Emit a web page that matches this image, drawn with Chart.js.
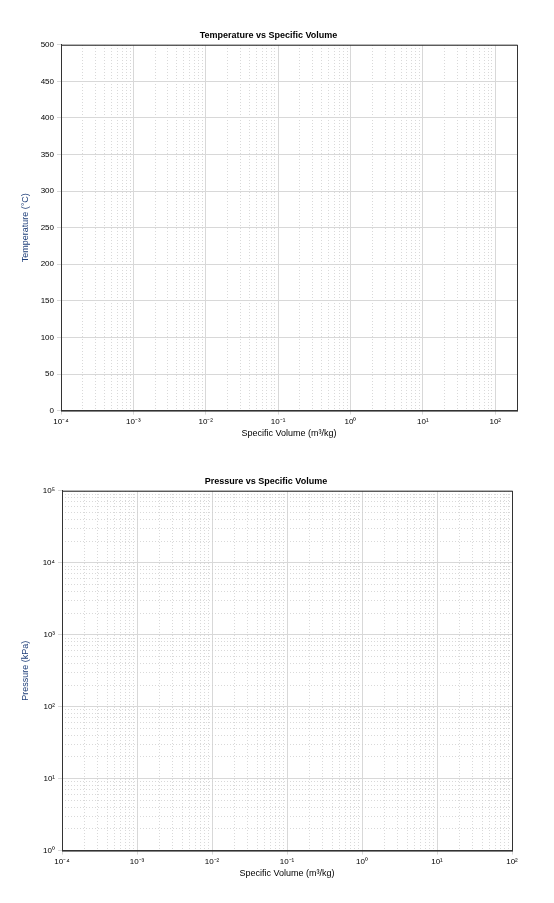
<!DOCTYPE html>
<html>
<head>
<meta charset="utf-8">
<script src="https://cdn.jsdelivr.net/npm/chart.js@4/dist/chart.umd.min.js"></script>
<style>
 body { margin:0; background:#fff; }
 .box { position:absolute; left:0; width:554px; }
</style>
</head>
<body>
<div class="box" style="top:0;height:450px"><canvas id="tempChart"></canvas></div>
<div class="box" style="top:450px;height:453px"><canvas id="presChart"></canvas></div>
<script>
// data (the reference plots are empty)
const volumes = [];
const temperatures = [];
const pressures = [];
const volDecades = [1e-4, 1e-3, 1e-2, 1e-1, 1, 10, 100];
const presDecades = [1, 10, 100, 1000, 10000, 100000];
const minorSteps = [2, 3, 4, 5, 6, 7, 8, 9];
const tempTicks = [0, 50, 100, 150, 200, 250, 300, 350, 400, 450, 500];
const supers = { '-': '⁻', '0': '⁰', '1': '¹', '2': '²', '3': '³', '4': '⁴', '5': '⁵' };

Chart.defaults.font.family = "'Liberation Sans', Arial, sans-serif";
Chart.defaults.color = '#000';
Chart.defaults.animation = false;

function powLabel(v) {
  const e = String(Math.round(Math.log10(v)));
  return '10' + e.split('').map(c => supers[c]).join('');
}
function minorList(decades, max) {
  const out = [];
  decades.forEach(d => minorSteps.forEach(m => { if (d * m <= max) out.push(d * m); }));
  return out;
}

const boxPlugin = {
  id: 'box',
  afterDraw(chart) {
    const a = chart.chartArea, c = chart.ctx;
    c.save();
    c.strokeStyle = '#333';
    c.lineWidth = 1;
    c.strokeRect(a.left + 0.5, a.top + 0.5, a.right - a.left, a.bottom - a.top);
    c.restore();
  }
};

function logX(min, max) {
  return {
    major: {
      type: 'logarithmic', position: 'bottom', min: min, max: max,
      afterBuildTicks: s => { s.ticks = volDecades.filter(v => v >= min && v <= max).map(v => ({ value: v })); },
      ticks: { callback: v => powLabel(v), font: { size: 8 }, maxRotation: 0, autoSkip: false, padding: 2 },
      grid: { color: '#d8d8d8', tickLength: 4 },
      border: { color: '#333' },
      title: { display: true, text: 'Specific Volume (m³/kg)', font: { size: 9 }, padding: { top: 0 } }
    },
    minor: {
      type: 'logarithmic', position: 'top', min: min, max: max,
      afterBuildTicks: s => { s.ticks = minorList(volDecades, max).filter(v => v >= min).map(v => ({ value: v })); },
      ticks: { display: false },
      grid: { color: '#cfcfcf', drawTicks: false, lineWidth: 0.8 },
      border: { display: false, dash: [1, 2] }
    }
  };
}

function initialize() {
  const tx = logX(1e-4, 200);
  new Chart(document.getElementById('tempChart'), {
    type: 'scatter',
    data: { datasets: [{ data: volumes.map((v, i) => ({ x: v, y: temperatures[i] })) }] },
    options: {
      responsive: true, maintainAspectRatio: false,
      layout: { padding: { left: 20, right: 37, top: 30, bottom: 7 } },
      plugins: {
        legend: { display: false },
        title: { display: true, text: 'Temperature vs Specific Volume', font: { size: 9, weight: 'bold' }, padding: { top: 0, bottom: 4 } }
      },
      scales: {
        x: tx.major,
        xm: tx.minor,
        y: {
          min: 0, max: 500,
          afterBuildTicks: s => { s.ticks = tempTicks.map(v => ({ value: v })); },
          afterFit: s => { s.width = 41; },
          ticks: { font: { size: 8 }, padding: 3 },
          grid: { color: '#d8d8d8', tickLength: 4 },
          border: { color: '#333' },
          title: { display: true, text: 'Temperature (°C)', color: '#1f3f7a', font: { size: 9 }, padding: 0 }
        }
      }
    },
    plugins: [boxPlugin]
  });

  const px = logX(1e-4, 100);
  new Chart(document.getElementById('presChart'), {
    type: 'scatter',
    data: { datasets: [{ data: volumes.map((v, i) => ({ x: v, y: pressures[i] })) }] },
    options: {
      responsive: true, maintainAspectRatio: false,
      layout: { padding: { left: 20, right: 42, top: 26, bottom: 20 } },
      plugins: {
        legend: { display: false },
        title: { display: true, text: 'Pressure vs Specific Volume', font: { size: 9, weight: 'bold' }, padding: { top: 0, bottom: 4 } }
      },
      scales: {
        x: px.major,
        xm: px.minor,
        y: {
          type: 'logarithmic', min: 1, max: 100000,
          afterBuildTicks: s => { s.ticks = presDecades.map(v => ({ value: v })); },
          afterFit: s => { s.width = 42; },
          ticks: { callback: v => powLabel(v), font: { size: 8 }, padding: 3 },
          grid: { color: '#d8d8d8', tickLength: 4 },
          border: { color: '#333' },
          title: { display: true, text: 'Pressure (kPa)', color: '#1f3f7a', font: { size: 9 }, padding: 0 }
        },
        ym: {
          type: 'logarithmic', position: 'right', min: 1, max: 100000,
          afterBuildTicks: s => { s.ticks = minorList(presDecades, 100000).map(v => ({ value: v })); },
          afterFit: s => { s.width = 0; },
          ticks: { display: false },
          grid: { color: '#cfcfcf', drawTicks: false, lineWidth: 0.8 },
          border: { display: false, dash: [1, 2] }
        }
      }
    },
    plugins: [boxPlugin]
  });
  console.log('Charts initialized');
}
initialize();
</script>
</body>
</html>
